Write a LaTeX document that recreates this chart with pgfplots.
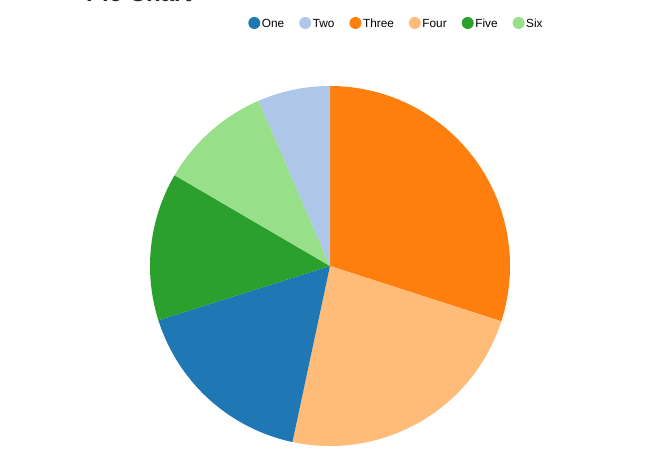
\documentclass[border=0pt]{standalone}
\usepackage{fontspec}
\setmainfont{Liberation Sans}
\usepackage{pgfplots}
\usepackage{pgfplotstable}
\pgfplotsset{compat=1.18}

\definecolor{cOne}{HTML}{1F77B4}
\definecolor{cTwo}{HTML}{AEC7E8}
\definecolor{cThree}{HTML}{FF7F0E}
\definecolor{cFour}{HTML}{FFBB78}
\definecolor{cFive}{HTML}{2CA02C}
\definecolor{cSix}{HTML}{98DF8A}

% slice values (drawn largest first, clockwise from 12 o'clock)
\pgfplotstableread{
label value col
One   16.8  cOne
Two   6.5   cTwo
Three 30.0  cThree
Four  23.4  cFour
Five  13.3  cFive
Six   10.1  cSix
}\piedata
\pgfplotstablesort[sort key=value, sort cmp=float >]{\piesorted}{\piedata}

\begin{document}
\begin{tikzpicture}
\useasboundingbox (0,0) rectangle (661pt,458pt);
\node[anchor=base west, font=\bfseries\fontsize{24}{28}\selectfont,
      text=black!85, inner sep=0pt] at (86pt,456.5pt) {Pie Chart};
\begin{axis}[
  at={(330pt,192pt)}, anchor=origin,
  hide axis, scale only axis,
  width=360pt, height=360pt,
  xmin=-1, xmax=1, ymin=-1, ymax=1,
  legend columns=-1,
  legend image code/.code={\fill[draw=none,#1] (0pt,1pt) circle (6pt);},
  legend style={draw=none, fill=none, inner sep=0pt,
    at={(0.2725,1.175)}, anchor=west,
    font=\fontsize{11.8}{14}\selectfont,
    nodes={inner sep=0pt},
    /tikz/every odd column/.style={column sep=1.6pt},
    /tikz/every even column/.style={column sep=15pt}},
]
\pgfplotstablegetrowsof{\piesorted}
\pgfmathtruncatemacro\lastrow{\pgfplotsretval-1}
\gdef\total{0}
\foreach \i in {0,...,\lastrow}{
  \pgfplotstablegetelem{\i}{value}\of\piesorted
  \pgfmathparse{\total+\pgfplotsretval}\xdef\total{\pgfmathresult}
}
\gdef\cum{0}
\foreach \i in {0,...,\lastrow}{
  \pgfplotstablegetelem{\i}{value}\of\piesorted \let\slv\pgfplotsretval
  \pgfplotstablegetelem{\i}{col}\of\piesorted \let\slc\pgfplotsretval
  \pgfmathsetmacro\sla{90-\cum/\total*360}
  \pgfmathsetmacro\slb{90-(\cum+\slv)/\total*360}
  \edef\temp{\noexpand\fill[\slc] (axis cs:0,0) -- (axis cs:{cos(\sla)},{sin(\sla)})
    arc[start angle=\sla, end angle=\slb, radius=1] -- cycle;}
  \temp
  \pgfmathparse{\cum+\slv}\xdef\cum{\pgfmathresult}
}
\addlegendimage{fill=cOne}\addlegendentry{One}
\addlegendimage{fill=cTwo}\addlegendentry{Two}
\addlegendimage{fill=cThree}\addlegendentry{Three}
\addlegendimage{fill=cFour}\addlegendentry{Four}
\addlegendimage{fill=cFive}\addlegendentry{Five}
\addlegendimage{fill=cSix}\addlegendentry{Six}
\end{axis}
\end{tikzpicture}
\end{document}
